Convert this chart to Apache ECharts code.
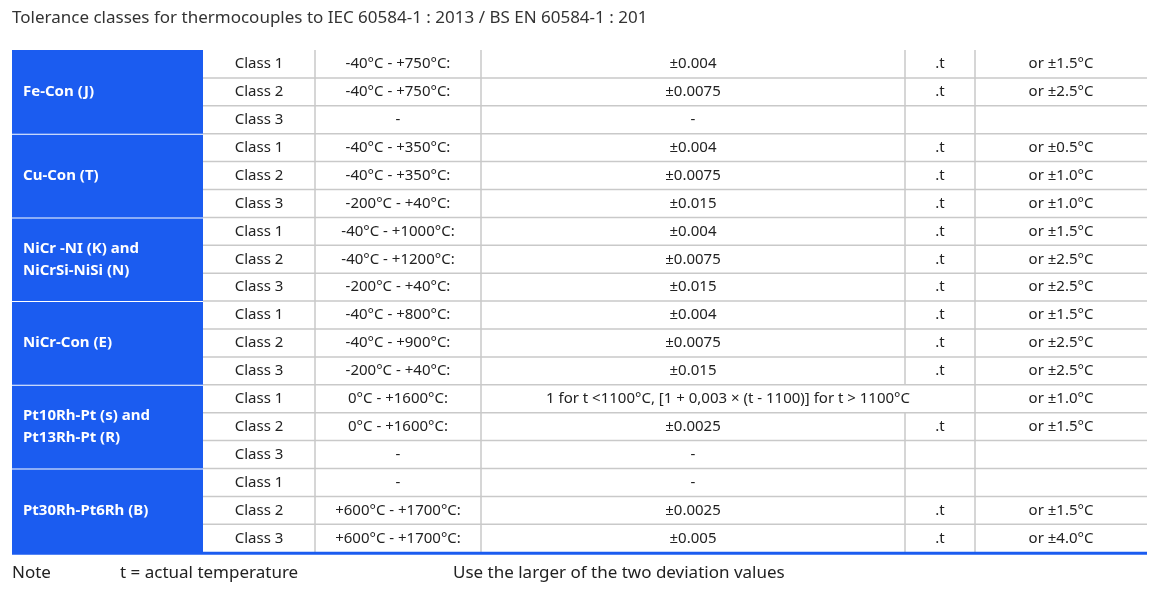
<!DOCTYPE html>
<html>
<head>
<meta charset="utf-8">
<script src="https://cdn.jsdelivr.net/npm/echarts@6/dist/echarts.min.js"></script>
<style>html,body{margin:0;padding:0;background:#fff}#chart{width:1153px;height:596px}</style>
</head>
<body>
<div id="chart"></div>
<script>
// table content
const groups = ["Fe-Con (J)", "Cu-Con (T)", "NiCr -NI (K) and\nNiCrSi-NiSi (N)", "NiCr-Con (E)", "Pt10Rh-Pt (s) and\nPt13Rh-Pt (R)", "Pt30Rh-Pt6Rh (B)"];
const classes = ["Class 1", "Class 2", "Class 3"];
const ranges = [
    "-40°C - +750°C:", "-40°C - +750°C:", "-",
    "-40°C - +350°C:", "-40°C - +350°C:", "-200°C - +40°C:",
    "-40°C - +1000°C:", "-40°C - +1200°C:", "-200°C - +40°C:",
    "-40°C - +800°C:", "-40°C - +900°C:", "-200°C - +40°C:",
    "0°C - +1600°C:", "0°C - +1600°C:", "-",
    "-", "+600°C - +1700°C:", "+600°C - +1700°C:"
];
const tolerances = [
    "±0.004", "±0.0075", "-",
    "±0.004", "±0.0075", "±0.015",
    "±0.004", "±0.0075", "±0.015",
    "±0.004", "±0.0075", "±0.015",
    "1 for t <1100°C, [1 + 0,003 × (t - 1100)] for t > 1100°C", "±0.0025", "-",
    "-", "±0.0025", "±0.005"
];
const tUnits = [
    ".t", ".t", "",
    ".t", ".t", ".t",
    ".t", ".t", ".t",
    ".t", ".t", ".t",
    "", ".t", "",
    "", ".t", ".t"
];
const orValues = [
    "or ±1.5°C", "or ±2.5°C", "",
    "or ±0.5°C", "or ±1.0°C", "or ±1.0°C",
    "or ±1.5°C", "or ±2.5°C", "or ±2.5°C",
    "or ±1.5°C", "or ±2.5°C", "or ±2.5°C",
    "or ±1.0°C", "or ±1.5°C", "",
    "", "or ±1.5°C", "or ±4.0°C"
];
const title = "Tolerance classes for thermocouples to IEC 60584-1 : 2013 / BS EN 60584-1 : 201";
const notes = ["Note", "t = actual temperature", "Use the larger of the two deviation values"];

// layout
const FONT = '"Noto Sans", sans-serif';
const TOP = 50, ROW_H = 27.9;
const colEdges = [12, 203, 315, 481, 905, 975, 1147];
const BLUE = "#1b5cf0", LINE = "#c9c9c9", TEXT = "#222";

const rowData = ranges.map((r, i) => [i]);
const groupData = groups.map((g, i) => [i]);

function cellText(api, x0, x1, yc, txt, opts) {
    const p0 = api.coord([x0, yc]), p1 = api.coord([x1, yc]);
    return {
        type: "text",
        style: Object.assign({
            x: (p0[0] + p1[0]) / 2, y: p0[1], text: txt,
            align: "center", verticalAlign: "middle",
            font: "15px " + FONT, fill: TEXT
        }, opts || {})
    };
}

function renderRow(params, api) {
    const i = api.value(0);
    const y0 = TOP + i * ROW_H, y1 = y0 + ROW_H, yc = y0 + ROW_H / 2;
    const children = [];
    // horizontal separator under row
    if (i < ranges.length - 1) {
        const a = api.coord([colEdges[1], y1]), b = api.coord([colEdges[6], y1]);
        children.push({ type: "line", shape: { x1: a[0], y1: a[1], x2: b[0], y2: b[1] }, style: { stroke: LINE, lineWidth: 1.5 } });
    }
    // vertical separators
    [2, 3, 4, 5].forEach(c => {
        if (i === 12 && c === 4) return;
        const a = api.coord([colEdges[c], y0]), b = api.coord([colEdges[c], y1]);
        children.push({ type: "line", shape: { x1: a[0], y1: a[1], x2: b[0], y2: b[1] }, style: { stroke: LINE, lineWidth: 1.5 } });
    });
    children.push(cellText(api, colEdges[1], colEdges[2], yc, classes[i % 3]));
    children.push(cellText(api, colEdges[2], colEdges[3], yc, ranges[i]));
    if (i === 12) {
        children.push(cellText(api, colEdges[3], colEdges[5], yc, tolerances[i]));
    } else {
        children.push(cellText(api, colEdges[3], colEdges[4], yc, tolerances[i]));
    }
    children.push(cellText(api, colEdges[4], colEdges[5], yc, tUnits[i]));
    children.push(cellText(api, colEdges[5], colEdges[6], yc, orValues[i]));
    return { type: "group", children: children };
}

function renderGroup(params, api) {
    const g = api.value(0);
    const y0 = TOP + g * 3 * ROW_H, y1 = y0 + 3 * ROW_H;
    const a = api.coord([colEdges[0], y0]), b = api.coord([colEdges[1], y1]);
    return {
        type: "group",
        children: [
            { type: "rect", shape: { x: a[0], y: a[1] + (g ? 1 : 0), width: b[0] - a[0], height: b[1] - a[1] - (g ? 1 : 0) }, style: { fill: BLUE } },
            { type: "text", style: { x: a[0] + 11, y: (a[1] + b[1]) / 2, text: groups[g], verticalAlign: "middle", font: "bold 15px " + FONT, fill: "#fff", lineHeight: 22 } }
        ]
    };
}

function renderFrame(params, api) {
    const a = api.coord([colEdges[0], TOP + 18 * ROW_H + 1]), b = api.coord([colEdges[6], TOP + 18 * ROW_H + 1]);
    const t = api.coord([12, 18]);
    const n = api.coord([12, 573]);
    return {
        type: "group",
        children: [
            { type: "line", shape: { x1: a[0], y1: a[1], x2: b[0], y2: b[1] }, style: { stroke: BLUE, lineWidth: 3 } },
            { type: "text", style: { x: t[0], y: t[1], text: title, verticalAlign: "middle", font: "17px " + FONT, fill: "#333" } },
            { type: "text", style: { x: n[0], y: n[1], text: notes[0], verticalAlign: "middle", font: "17px " + FONT, fill: TEXT } },
            { type: "text", style: { x: api.coord([120, 0])[0], y: n[1], text: notes[1], verticalAlign: "middle", font: "17px " + FONT, fill: TEXT } },
            { type: "text", style: { x: api.coord([453, 0])[0], y: n[1], text: notes[2], verticalAlign: "middle", font: "17px " + FONT, fill: TEXT } }
        ]
    };
}

const chart = echarts.init(document.getElementById("chart"));
chart.setOption({
    animation: false,
    grid: { left: 0, right: 0, top: 0, bottom: 0 },
    xAxis: { type: "value", min: 0, max: 1153, show: false },
    yAxis: { type: "value", min: 0, max: 596, inverse: true, show: false },
    series: [
        { type: "custom", renderItem: renderRow, data: rowData, silent: true },
        { type: "custom", renderItem: renderGroup, data: groupData, silent: true },
        { type: "custom", renderItem: renderFrame, data: [[0]], silent: true }
    ]
});
</script>
</body>
</html>
